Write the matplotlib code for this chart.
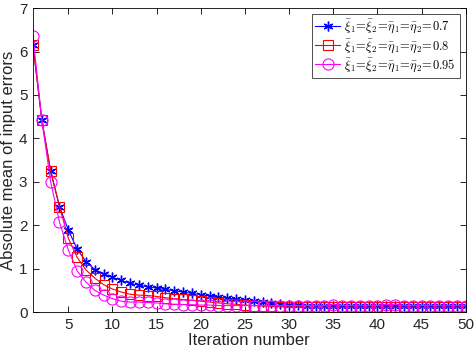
import matplotlib
matplotlib.use("Agg")
import matplotlib.pyplot as plt
import numpy as np

iterations = list(range(1, 51))

blue_07 = [6.15, 4.42, 3.24, 2.43, 1.89, 1.45, 1.16, 0.98, 0.88, 0.80,
           0.73, 0.66, 0.62, 0.58, 0.55, 0.52, 0.49, 0.46, 0.43, 0.40,
           0.37, 0.34, 0.32, 0.30, 0.28, 0.26, 0.23, 0.21, 0.19, 0.17,
           0.16, 0.15, 0.14, 0.14, 0.13, 0.13, 0.13, 0.13, 0.13, 0.13,
           0.13, 0.13, 0.13, 0.13, 0.13, 0.13, 0.13, 0.13, 0.13, 0.13]

red_08 = [6.15, 4.43, 3.25, 2.43, 1.70, 1.26, 0.97, 0.78, 0.63, 0.53,
          0.46, 0.41, 0.39, 0.38, 0.36, 0.33, 0.31, 0.29, 0.27, 0.25,
          0.23, 0.21, 0.19, 0.18, 0.16, 0.15, 0.14, 0.13, 0.12, 0.12,
          0.12, 0.11, 0.11, 0.11, 0.11, 0.11, 0.11, 0.11, 0.11, 0.11,
          0.11, 0.11, 0.11, 0.11, 0.11, 0.11, 0.11, 0.11, 0.11, 0.11]

mag_095 = [6.36, 4.42, 3.00, 2.07, 1.43, 0.95, 0.69, 0.50, 0.39, 0.31,
           0.25, 0.23, 0.23, 0.22, 0.21, 0.19, 0.18, 0.17, 0.17, 0.16,
           0.16, 0.15, 0.15, 0.15, 0.15, 0.15, 0.15, 0.15, 0.15, 0.15,
           0.15, 0.15, 0.15, 0.15, 0.17, 0.15, 0.15, 0.15, 0.15, 0.15,
           0.17, 0.17, 0.15, 0.15, 0.15, 0.15, 0.15, 0.15, 0.15, 0.15]

labels = [r'$\bar{\xi}_1\!=\!\bar{\xi}_2\!=\!\bar{\eta}_1\!=\!\bar{\eta}_2\!=\!0.7$',
          r'$\bar{\xi}_1\!=\!\bar{\xi}_2\!=\!\bar{\eta}_1\!=\!\bar{\eta}_2\!=\!0.8$',
          r'$\bar{\xi}_1\!=\!\bar{\xi}_2\!=\!\bar{\eta}_1\!=\!\bar{\eta}_2\!=\!0.95$']

xticks = [5, 10, 15, 20, 25, 30, 35, 40, 45, 50]
yticks = [0, 1, 2, 3, 4, 5, 6, 7]

plt.rcParams['font.family'] = ['Liberation Sans', 'DejaVu Sans']
plt.rcParams['mathtext.fontset'] = 'cm'

fig = plt.figure(figsize=(4.74, 3.53), dpi=100)
ax = fig.add_axes([0.0696, 0.116, 0.913, 0.861])

ax.plot(iterations, blue_07, color='#0000ff', marker=(6, 2, 0), markersize=7,
        markeredgewidth=1.0, linewidth=0.8, label=labels[0])
ax.plot(iterations, red_08, color='#ff0000', marker='s', markersize=6.5,
        markerfacecolor='none', markeredgewidth=0.8, linewidth=0.8, label=labels[1])
ax.plot(iterations, mag_095, color='#ff00ff', marker='o', markersize=8,
        markerfacecolor='none', markeredgewidth=0.8, linewidth=0.8, label=labels[2])

ax.set_xlim(1, 50)
ax.set_ylim(0, 7)
ax.set_xticks(xticks)
ax.set_yticks(yticks)
ax.tick_params(direction='in', top=True, right=True, labelsize=11, length=4,
               width=0.6, pad=4, labelcolor='#262626')
for s in ax.spines.values():
    s.set_linewidth(0.6)
ax.set_xlabel('Iteration number', fontsize=12, labelpad=1, color='#262626')
ax.set_ylabel('Absolute mean of input errors', fontsize=12, labelpad=2, color='#262626')

leg = ax.legend(loc='upper right', fontsize=9, frameon=True, fancybox=False,
                edgecolor='black', borderpad=0.3, labelspacing=0.15,
                handlelength=2.0, handletextpad=0.3, borderaxespad=0.5)
leg.get_frame().set_linewidth(0.6)

fig.savefig('out.png', dpi=100)
